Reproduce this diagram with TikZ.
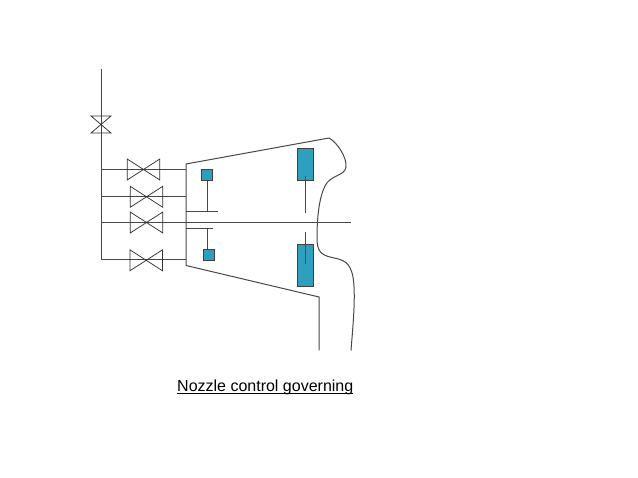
\documentclass[tikz,border=0pt]{standalone}
\usepackage{fontspec}
\setmainfont{Liberation Sans}
\definecolor{bladeblue}{HTML}{2E9FBF}
\tikzset{
  pipe/.style={draw=black!72,line width=1pt},
  blade/.style={draw=black!75,fill=bladeblue,line width=1pt,inner sep=0pt,outer sep=0pt,minimum width=#1},
  valvebody/.style={draw=black!80,line width=0.75pt,line join=miter},
  caption/.style={font=\fontsize{16}{20}\selectfont,inner sep=0pt,anchor=base west}
}
\newcommand{\hvalve}[3]{%
  \coordinate (#1) at (#2,#3);
  \draw[valvebody] (#2-16.3,#3-10.5) -- (#2+16.3,#3+10.5) -- (#2+16.3,#3-10.5) -- (#2-16.3,#3+10.5) -- cycle;
}
\begin{document}
\begin{tikzpicture}[x=1pt,y=-1pt]
\useasboundingbox (0,0) rectangle (638,478);
% junctions
\coordinate (inlet) at (101,69);
\coordinate (j1) at (101,169.5);
\coordinate (j2) at (101,197);
\coordinate (j3) at (101,222.7);
\coordinate (j4) at (101,260);
\coordinate (c1) at (186,169.5);
\coordinate (c2) at (186,197);
\coordinate (c4) at (186,260);
\coordinate (casetop) at (186,164);
\coordinate (casebot) at (186,265.5);
\coordinate (shaftend) at (351,222.7);
\coordinate (outa) at (329,138);
\coordinate (outb) at (319,297);
\coordinate (outc) at (319,350.5);
\coordinate (outd) at (351,350.5);
% blades
\node[blade=11pt,minimum height=11pt] (s1) at (207.4,175.2) {};
\node[blade=11pt,minimum height=11pt] (s2) at (209,254.8) {};
\node[blade=16pt,minimum height=32pt] (b1) at (305.5,164.7) {};
\node[blade=16pt,minimum height=42.5pt] (b2) at (305.5,265.5) {};
% pipes
\draw[pipe] (inlet) -- (j4) -- (c4);
\draw[pipe] (j1) -- (c1);
\draw[pipe] (j2) -- (c2);
\draw[pipe] (j3) -- (shaftend);
\draw[pipe] (outa) -- (casetop) -- (casebot) -- (outb) -- (outc);
\draw[pipe] (outa) .. controls (338,143) and (347,158) .. (346,167)
  .. controls (345,176) and (330,175) .. (325,186)
  .. controls (319,198) and (317,218) .. (317,238)
  .. controls (317,250) and (320,255) .. (332,257.5)
  .. controls (344,260) and (350,262) .. (353,277)
  .. controls (356,295) and (353,325) .. (outd);
% wheels
\coordinate (d1) at (218,212);
\coordinate (d1a) at (186,212);
\coordinate (d2) at (212.5,228.5);
\coordinate (d2a) at (186,228.5);
\coordinate (st1) at (207.4,212);
\coordinate (st2) at (207.4,228.5);
\draw[pipe] (d1a) -- (d1);
\draw[pipe] (d2a) -- (d2);
\draw[pipe] (s1.south -| st1) -- (st1);
\draw[pipe] (st2) -- (st2 |- s2.north);
\coordinate (r1a) at (305,176);
\coordinate (r1b) at (305,212.7);
\coordinate (r2a) at (305,232.3);
\coordinate (r2b) at (305,264);
\draw[pipe] (r1a) -- (r1b);
\draw[pipe] (r2a) -- (r2b);
% valves
\coordinate (v0) at (101,124.5);
\draw[valvebody] (91,116) -- (111,116) -- (91,133) -- (111,133) -- cycle;
\hvalve{v1}{143.5}{169.5}
\hvalve{v2}{146.5}{196.8}
\hvalve{v3}{146.5}{222.5}
\hvalve{v4}{146.2}{260.3}
% caption
\node[caption] (cap) at (177,391.5) {Nozzle control governing};
\draw[black,line width=0.9pt] ([yshift=-2.3pt]cap.base west) -- ([yshift=-2.3pt]cap.base east);
\end{tikzpicture}
\end{document}
